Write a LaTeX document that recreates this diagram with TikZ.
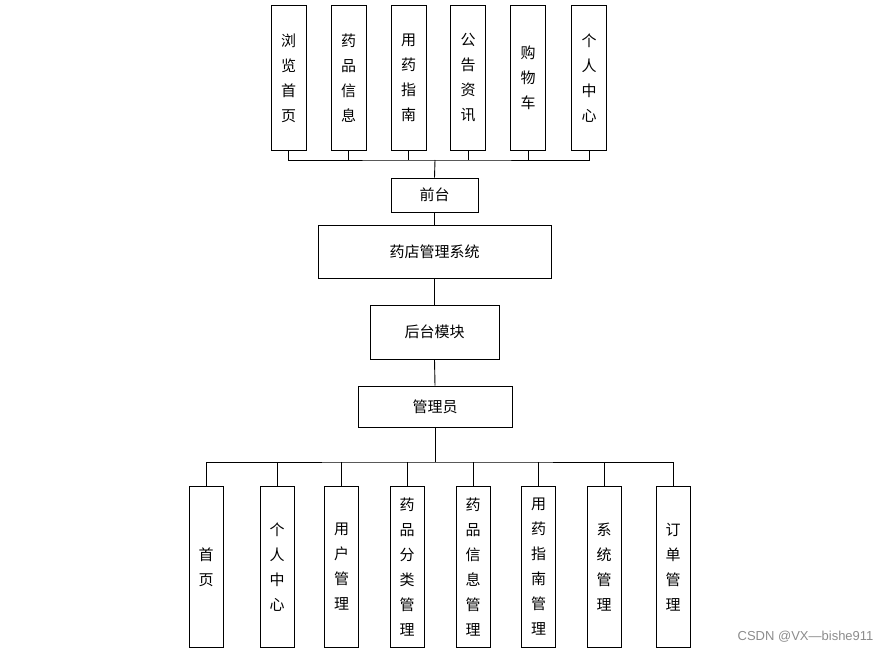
\documentclass[tikz,border=0pt]{standalone}
\usepackage{fontspec}
\newfontfamily\cjk{Noto Sans CJK SC}
\begin{document}
\begin{tikzpicture}[x=1pt,y=-1pt,
  bx/.style={draw,line width=0.9pt,inner sep=0pt,font=\cjk\fontsize{15}{25}\selectfont,align=center},
  ln/.style={line width=0.9pt}]
\useasboundingbox (0,0) rectangle (879,652);
% top
\foreach \n/\x/\t in {t1/288.5/浏\\览\\首\\页, t2/348.5/药\\品\\信\\息, t3/408.5/用\\药\\指\\南, t4/468/公\\告\\资\\讯, t5/528/购\\物\\车, t6/589/个\\人\\中\\心}{
  \node[bx,minimum width=35,minimum height=145,anchor=north] (\n) at (\x,5) {\t};
}
% fix vertical alignment: text in top boxes starts near top
\node[bx,minimum width=87,minimum height=34] (qt) at (434.5,195) {前台};
\node[bx,minimum width=233,minimum height=53] (sys) at (434.5,251.5) {药店管理系统};
\node[bx,minimum width=129,minimum height=54] (ht) at (434.5,332) {后台模块};
\node[bx,minimum width=154,minimum height=41] (adm) at (435,406.5) {管理员};
\coordinate (tb) at (435,160);
\draw[ln] (t1.south) |- (tb) -| (t6.south);
\foreach \n in {t2,t3,t4,t5}{\draw[ln] (\n.south) -- (\n.south |- tb);}
\draw[ln] (tb) -- (qt.north);
\draw[ln] (qt.south) -- (sys.north);
\draw[ln] (sys.south) -- (ht.north);
\draw[ln] (ht.south) -- (adm.north);
% bottom
\foreach \n/\x/\t in {b1/206/首\\页, b2/277/个\\人\\中\\心, b3/341.5/用\\户\\管\\理, b4/407/药\\品\\分\\类\\管\\理, b5/473/药\\品\\信\\息\\管\\理, b6/538.5/用\\药\\指\\南\\管\\理, b7/604/系\\统\\管\\理, b8/673/订\\单\\管\\理}{
  \node[bx,minimum width=34,minimum height=161,anchor=north] (\n) at (\x,486) {\t};
}
\coordinate (bb) at (435,462);
\draw[ln] (adm.south) -- (bb);
\draw[ln] (b1.north) |- (bb) -| (b8.north);
\foreach \n in {b2,b3,b4,b5,b6,b7}{\draw[ln] (\n.north) -- (\n.north |- bb);}
\node[anchor=east,text=black!45,font=\fontspec{Liberation Sans}\fontsize{13}{14}\selectfont] (wm) at (877,637) {CSDN @VX—bishe911};
\end{tikzpicture}
\end{document}
